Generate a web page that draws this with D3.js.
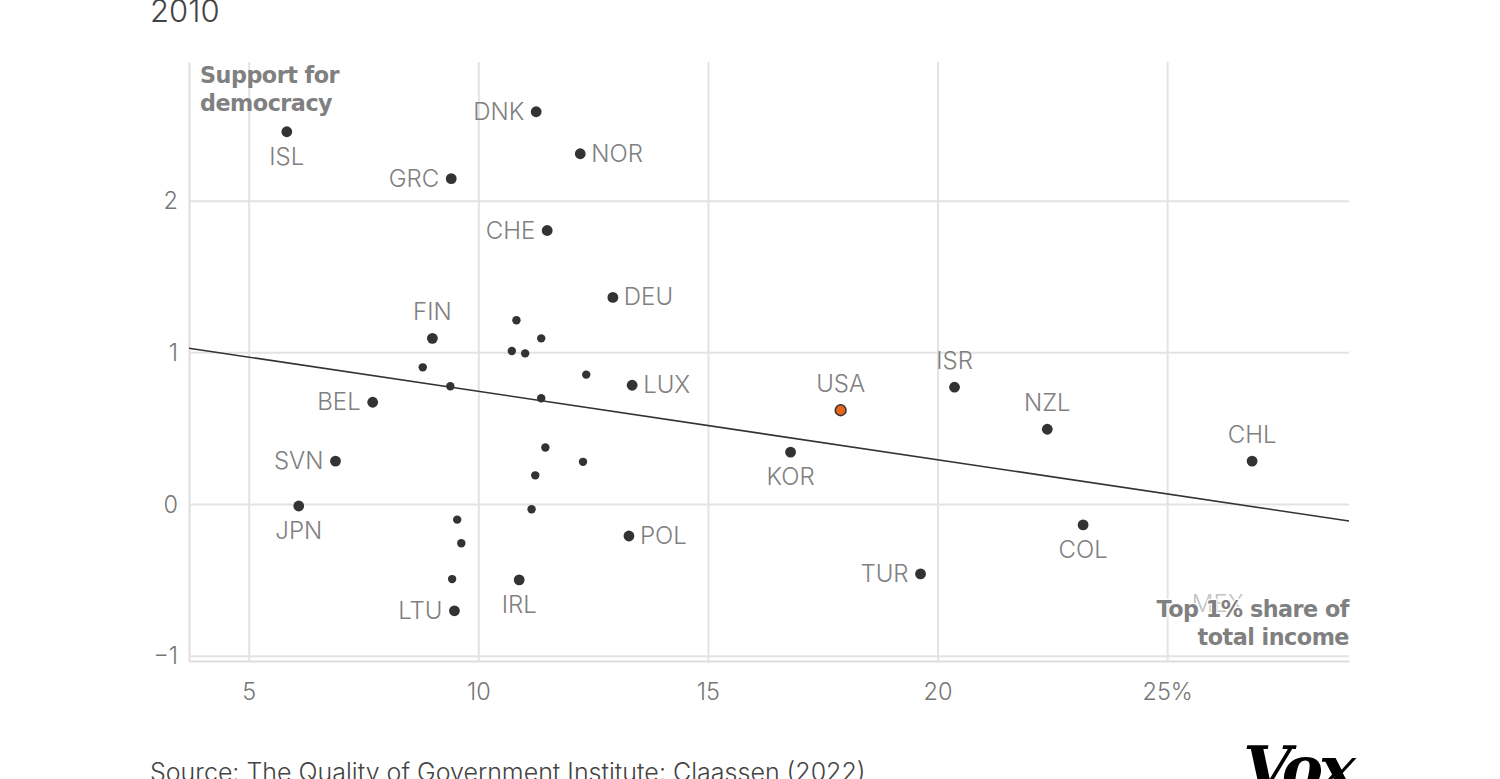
<!DOCTYPE html>
<html lang="en">
<head>
<meta charset="UTF-8">
<title>Support for democracy vs top 1% income share, 2010</title>
<script src="https://d3js.org/d3.v7.min.js"></script>
<style>
    body { margin: 0; padding: 0; background: #fff; }
    svg { display: block; }
    text { font-family: "Inter", "Roboto", sans-serif; }
    .tick text { fill: #777; font-size: 23.5px; font-weight: 300; }
    .lbl { fill: #808080; font-size: 24px; font-weight: 300; }
    .axis-title { fill: #808080; font-family: "DejaVu Sans", sans-serif; font-size: 22.3px; font-weight: 700; letter-spacing: -0.5px; }
</style>
</head>
<body>
<svg width="1500" height="779"></svg>
<script>
const width = 1500, height = 779;

// labelled countries: code, top 1% share, support for democracy
const codes   = ["ISL", "DNK", "NOR", "GRC", "CHE", "DEU", "FIN", "LUX", "BEL", "SVN", "JPN",
                 "USA", "ISR", "NZL", "CHL", "KOR", "COL", "TUR", "POL", "IRL", "LTU"];
const shares  = [5.83, 11.26, 12.22, 9.41, 11.5, 12.93, 9.0, 13.35, 7.7, 6.89, 6.09,
                 17.89, 20.37, 22.39, 26.85, 16.8, 23.17, 19.63, 13.28, 10.89, 9.48];
const support = [2.454, 2.586, 2.309, 2.145, 1.803, 1.362, 1.092, 0.783, 0.671, 0.283, -0.013,
                 0.618, 0.770, 0.493, 0.283, 0.342, -0.138, -0.461, -0.211, -0.5, -0.704];
// where the code sits next to its dot
const labelSide = ["below", "left", "right", "left", "left", "right", "above", "right", "left", "left", "below",
                   "above", "above", "above", "above", "below", "below", "left", "right", "below", "left"];

// unlabelled countries
const otherShares  = [10.83, 11.37, 10.73, 11.02, 8.79, 12.35, 9.39, 11.37, 11.46, 12.28, 11.24, 11.16, 9.54, 9.63, 9.43];
const otherSupport = [1.211, 1.092, 1.009, 0.993, 0.901, 0.853, 0.776, 0.697, 0.373, 0.278, 0.189, -0.035, -0.103, -0.259, -0.495];

// fitted line endpoints
const trendX = [3.7, 28.96];
const trendY = [1.027, -0.112];

const xTicks = [5, 10, 15, 20, 25];
const yTicks = [-1, 0, 1, 2];

const svg = d3.select("svg");

const margin = { left: 189, right: 151, top: 62, bottom: 118 };
const x = d3.scaleLinear().domain([3.7, 28.96]).range([margin.left, width - margin.right]);
const y = d3.scaleLinear().domain([-1.035, 2.914]).range([height - margin.bottom, margin.top]);

// grid
svg.append("g")
    .attr("transform", `translate(0,${height - margin.bottom})`)
    .call(d3.axisBottom(x).tickValues(xTicks).tickSizeInner(-(height - margin.bottom - margin.top)).tickSizeOuter(0)
        .tickFormat(d => d === 25 ? "25%" : d))
    .call(g => g.select(".domain").attr("stroke", "#ddd").attr("stroke-width", 2))
    .call(g => g.selectAll(".tick line").attr("stroke", "#e3e3e3").attr("stroke-width", 2))
    .call(g => g.selectAll(".tick text").attr("dy", 0).attr("y", 39));

svg.append("g")
    .attr("transform", `translate(${margin.left},0)`)
    .call(d3.axisLeft(y).tickValues(yTicks).tickSizeInner(-(width - margin.right - margin.left)).tickSizeOuter(0)
        .tickFormat(d => d < 0 ? "\u2212" + Math.abs(d) : d))
    .call(g => g.select(".domain").attr("stroke", "#ddd").attr("stroke-width", 2))
    .call(g => g.selectAll(".tick line").attr("stroke", "#e3e3e3").attr("stroke-width", 2))
    .call(g => g.selectAll(".tick text").attr("x", -11).attr("dy", "0.35em"));

// trend line
svg.append("line")
    .attr("x1", x(trendX[0])).attr("y1", y(trendY[0]))
    .attr("x2", x(trendX[1])).attr("y2", y(trendY[1]))
    .attr("stroke", "#333").attr("stroke-width", 1.6);

// small dots
svg.append("g").selectAll("circle")
    .data(otherShares.map((s, i) => [s, otherSupport[i]]))
    .join("circle")
    .attr("cx", d => x(d[0])).attr("cy", d => y(d[1]))
    .attr("r", 4.2).attr("fill", "#333");

// labelled dots
const pts = codes.map((c, i) => ({ code: c, s: shares[i], v: support[i], side: labelSide[i] }));

svg.append("g").selectAll("circle")
    .data(pts)
    .join("circle")
    .attr("cx", d => x(d.s)).attr("cy", d => y(d.v))
    .attr("r", 5.4)
    .attr("fill", d => d.code === "USA" ? "#e8641b" : "#333")
    .attr("stroke", "#333").attr("stroke-width", d => d.code === "USA" ? 1.5 : 0);

svg.append("g").selectAll("text")
    .data(pts)
    .join("text")
    .attr("class", "lbl")
    .attr("x", d => d.side === "left" ? x(d.s) - 12 : d.side === "right" ? x(d.s) + 11 : x(d.s))
    .attr("y", d => d.side === "above" ? y(d.v) - 18 : d.side === "below" ? y(d.v) + 33 : y(d.v) + 8)
    .attr("text-anchor", d => d.side === "left" ? "end" : d.side === "right" ? "start" : "middle")
    .text(d => d.code);

// MEX label sitting under the x-axis title
svg.append("text")
    .attr("class", "lbl")
    .attr("x", x(26.1)).attr("y", y(-0.715))
    .attr("text-anchor", "middle")
    .style("fill", "#c4c4c4")
    .text("MEX");

// axis titles
const yt = svg.append("text").attr("class", "axis-title").attr("x", 200).attr("y", 83);
yt.append("tspan").text("Support for");
yt.append("tspan").attr("x", 200).attr("dy", 28).text("democracy");

const xt = svg.append("text").attr("class", "axis-title")
    .attr("x", width - margin.right).attr("y", 617).attr("text-anchor", "end")
    .attr("stroke", "#fff").attr("stroke-width", 2.5).attr("paint-order", "stroke");
xt.append("tspan").text("Top 1% share of");
xt.append("tspan").attr("x", width - margin.right).attr("dy", 28).text("total income");

// header and footer
svg.append("text")
    .attr("x", 150).attr("y", 22)
    .style("font-size", "31px").style("fill", "#444").style("font-weight", 300)
    .text("2010");

svg.append("text")
    .attr("x", 150).attr("y", 781)
    .style("font-size", "25px").style("fill", "#444").style("font-weight", 300)
    .text("Source: The Quality of Government Institute; Claassen (2022)");

svg.append("text")
    .attr("x", 1352).attr("y", 790).attr("text-anchor", "end")
    .style("font-family", "'DejaVu Serif', serif").style("font-size", "62px")
    .style("font-weight", 900).style("font-style", "italic").style("fill", "#000")
    .style("letter-spacing", "-4px")
    .text("Vox");
</script>
</body>
</html>
